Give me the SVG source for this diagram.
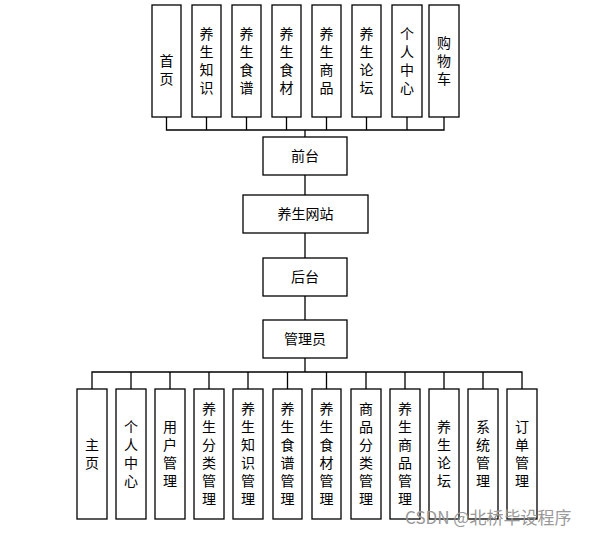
<svg xmlns="http://www.w3.org/2000/svg" width="612" height="536" viewBox="0 0 612 536">
<style>
rect{fill:#fff;stroke:#000;stroke-width:1.3}
text{font-family:"Noto Sans CJK SC","Liberation Sans",sans-serif;font-size:14px;fill:#000;text-anchor:middle}
.c path{fill:none;stroke:#000;stroke-width:1.3}
.wm{fill:#999;font-size:17px;text-anchor:start}
</style>
<rect x="0" y="0" width="612" height="536" style="fill:#fff;stroke:none"/>
<g class="c">
<path d="M166.5 117V130H444V117M206.5 117V130M246.5 117V130M286.5 117V130M326.5 117V130M366.5 117V130M407 117V130M305 130V137M305 175V195M305 233V258M305 296V320M305 358V372"/>
<path d="M92 389V372H522V389M131 372V389M170 372V389M209 372V389M248 372V389M287.5 372V389M326.5 372V389M366 372V389M405 372V389M444 372V389M483 372V389"/>
</g>
<g id="t1"><rect x="152" y="5" width="29" height="112"/><text x="166.5" y="66">首<tspan x="166.5" dy="18">页</tspan></text></g>
<g id="t2"><rect x="192" y="5" width="29" height="112"/><text x="206.5" y="39">养<tspan x="206.5" dy="18">生</tspan><tspan x="206.5" dy="18">知</tspan><tspan x="206.5" dy="18">识</tspan></text></g>
<g id="t3"><rect x="232" y="5" width="29" height="112"/><text x="246.5" y="39">养<tspan x="246.5" dy="18">生</tspan><tspan x="246.5" dy="18">食</tspan><tspan x="246.5" dy="18">谱</tspan></text></g>
<g id="t4"><rect x="272" y="5" width="29" height="112"/><text x="286.5" y="39">养<tspan x="286.5" dy="18">生</tspan><tspan x="286.5" dy="18">食</tspan><tspan x="286.5" dy="18">材</tspan></text></g>
<g id="t5"><rect x="312" y="5" width="29" height="112"/><text x="326.5" y="39">养<tspan x="326.5" dy="18">生</tspan><tspan x="326.5" dy="18">商</tspan><tspan x="326.5" dy="18">品</tspan></text></g>
<g id="t6"><rect x="352" y="5" width="29" height="112"/><text x="366.5" y="39">养<tspan x="366.5" dy="18">生</tspan><tspan x="366.5" dy="18">论</tspan><tspan x="366.5" dy="18">坛</tspan></text></g>
<g id="t7"><rect x="392" y="5" width="30" height="112"/><text x="407" y="39">个<tspan x="407" dy="18">人</tspan><tspan x="407" dy="18">中</tspan><tspan x="407" dy="18">心</tspan></text></g>
<g id="t8"><rect x="429" y="5" width="30" height="112"/><text x="444" y="48">购<tspan x="444" dy="18">物</tspan><tspan x="444" dy="18">车</tspan></text></g>
<g id="qt"><rect x="263" y="137" width="84" height="38"/><text x="305" y="161">前台</text></g>
<g id="site"><rect x="243" y="195" width="125" height="38"/><text x="305.5" y="219">养生网站</text></g>
<g id="ht"><rect x="263" y="258" width="84" height="38"/><text x="305" y="282">后台</text></g>
<g id="admin"><rect x="263" y="320" width="84" height="38"/><text x="305" y="344">管理员</text></g>
<g id="b1"><rect x="77" y="389" width="30" height="130"/><text x="92" y="450">主<tspan x="92" dy="18">页</tspan></text></g>
<g id="b2"><rect x="116" y="389" width="30" height="130"/><text x="131" y="432">个<tspan x="131" dy="18">人</tspan><tspan x="131" dy="18">中</tspan><tspan x="131" dy="18">心</tspan></text></g>
<g id="b3"><rect x="155" y="389" width="30" height="130"/><text x="170" y="432">用<tspan x="170" dy="18">户</tspan><tspan x="170" dy="18">管</tspan><tspan x="170" dy="18">理</tspan></text></g>
<g id="b4"><rect x="194" y="389" width="30" height="130"/><text x="209" y="414">养<tspan x="209" dy="18">生</tspan><tspan x="209" dy="18">分</tspan><tspan x="209" dy="18">类</tspan><tspan x="209" dy="18">管</tspan><tspan x="209" dy="18">理</tspan></text></g>
<g id="b5"><rect x="233" y="389" width="30" height="130"/><text x="248" y="414">养<tspan x="248" dy="18">生</tspan><tspan x="248" dy="18">知</tspan><tspan x="248" dy="18">识</tspan><tspan x="248" dy="18">管</tspan><tspan x="248" dy="18">理</tspan></text></g>
<g id="b6"><rect x="273" y="389" width="29" height="130"/><text x="287.5" y="414">养<tspan x="287.5" dy="18">生</tspan><tspan x="287.5" dy="18">食</tspan><tspan x="287.5" dy="18">谱</tspan><tspan x="287.5" dy="18">管</tspan><tspan x="287.5" dy="18">理</tspan></text></g>
<g id="b7"><rect x="312" y="389" width="29" height="130"/><text x="326.5" y="414">养<tspan x="326.5" dy="18">生</tspan><tspan x="326.5" dy="18">食</tspan><tspan x="326.5" dy="18">材</tspan><tspan x="326.5" dy="18">管</tspan><tspan x="326.5" dy="18">理</tspan></text></g>
<g id="b8"><rect x="351" y="389" width="30" height="130"/><text x="366" y="414">商<tspan x="366" dy="18">品</tspan><tspan x="366" dy="18">分</tspan><tspan x="366" dy="18">类</tspan><tspan x="366" dy="18">管</tspan><tspan x="366" dy="18">理</tspan></text></g>
<g id="b9"><rect x="390" y="389" width="30" height="130"/><text x="405" y="414">养<tspan x="405" dy="18">生</tspan><tspan x="405" dy="18">商</tspan><tspan x="405" dy="18">品</tspan><tspan x="405" dy="18">管</tspan><tspan x="405" dy="18">理</tspan></text></g>
<g id="b10"><rect x="429" y="389" width="30" height="130"/><text x="444" y="432">养<tspan x="444" dy="18">生</tspan><tspan x="444" dy="18">论</tspan><tspan x="444" dy="18">坛</tspan></text></g>
<g id="b11"><rect x="468" y="389" width="30" height="130"/><text x="483" y="432">系<tspan x="483" dy="18">统</tspan><tspan x="483" dy="18">管</tspan><tspan x="483" dy="18">理</tspan></text></g>
<g id="b12"><rect x="507" y="389" width="30" height="130"/><text x="522" y="432">订<tspan x="522" dy="18">单</tspan><tspan x="522" dy="18">管</tspan><tspan x="522" dy="18">理</tspan></text></g>
<text class="wm" x="405" y="524">CSDN @北桥毕设程序</text>
</svg>
